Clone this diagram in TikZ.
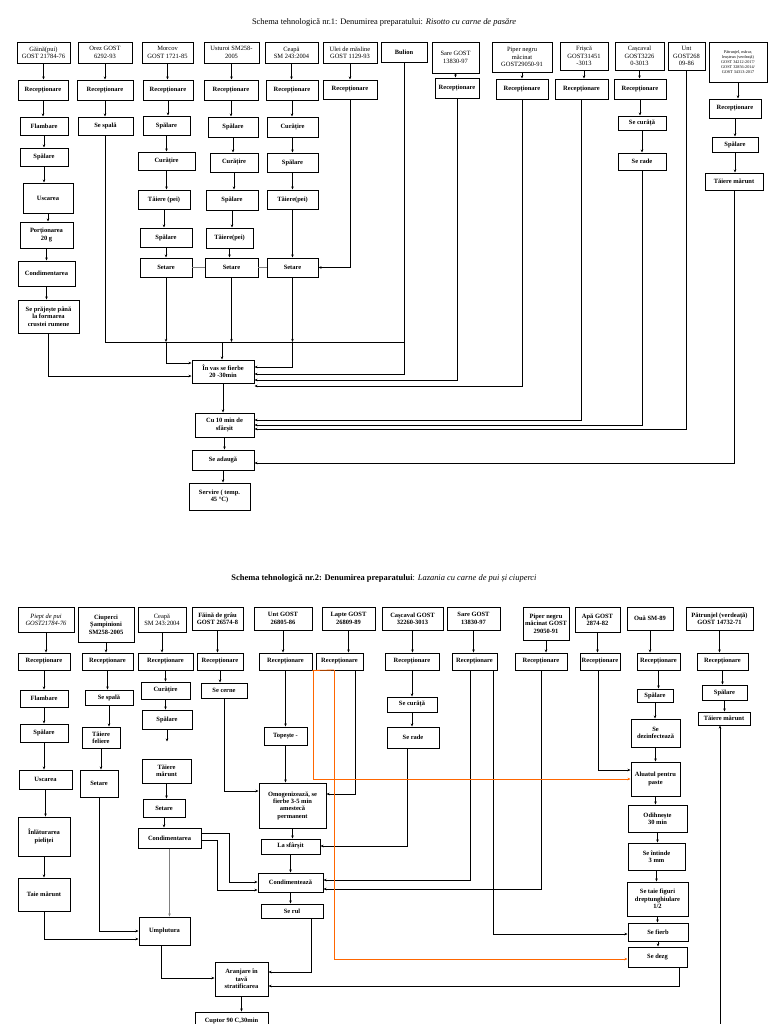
\documentclass[tikz,border=0pt]{standalone}
\usepackage{fontspec}
\setmainfont{Liberation Serif}
\usetikzlibrary{arrows.meta}
\tikzset{
 box/.style={draw,line width=0.7pt,inner sep=0.5pt,align=center,font=\fontsize{4.6}{5.2}\selectfont\bfseries},
 tbox/.style={box,line width=0.6pt,font=\fontsize{4.6}{5.2}\selectfont},
 ar/.style={-{Stealth[length=2.2pt,width=1.8pt]},line width=0.5pt},
 ln/.style={line width=0.5pt},
 gr/.style={draw=gray},
 orr/.style={draw=orange!80!red,line width=0.6pt},
}
\newcommand\bx[7][]{\node[box,#1,minimum width={(#5-#3)*0.025cm},minimum height={(#6-#4)*0.025cm}] (#2) at ({(#3+#5)/2},{(#4+#6)/2}) {#7};}
\newcommand\vd[2]{\draw[ar] (#1.south) -- (#1.south|-#2.north);}
\begin{document}
\begin{tikzpicture}[x=0.025cm,y=-0.025cm]
\useasboundingbox (0,0) rectangle (768,1024);
% ===== Scheme 1 =====
\node[font=\fontsize{6}{7}\selectfont] (t1) at (384,22) {Schema tehnologică nr.1: Denumirea preparatului: \textit{Risotto cu carne de pasăre}};
\bx[tbox]{a1}{17}{42}{70}{63}{Găină(pui)\\GOST 21784-76}
\bx[tbox]{a2}{78}{42}{132}{63}{Orez GOST\\6292-93}
\bx[tbox]{a3}{142}{42}{193}{63}{Morcov\\GOST 1721-85}
\bx[tbox]{a4}{204}{42}{259}{63}{Usturoi SM258-\\2005}
\bx[tbox]{a5}{265}{42}{318}{63}{Ceapă\\SM 243:2004}
\bx[tbox]{a6}{323}{42}{377}{63}{Ulei de măsline\\GOST 1129-93}
\bx{a7}{381}{42}{427}{62}{Bulion}
\bx[tbox]{a8}{432}{42}{479}{73}{Sare GOST\\13830-97}
\bx[tbox]{a9}{492}{42}{552}{72}{Piper negru\\măcinat\\GOST29050-91}
\bx[tbox]{a10}{560}{42}{608}{70}{Frișcă\\GOST31451\\-3013}
\bx[tbox]{a11}{615}{42}{664}{70}{Cașcaval\\GOST3226\\0-3013}
\bx[tbox]{a12}{668}{42}{705}{70}{Unt\\GOST268\\09-86}
\bx[tbox,font=\fontsize{3}{3.6}\selectfont]{a13}{709}{42}{767}{82}{Pătrunjel, mărar,\\leuștean (verdeață)\\GOST 34212-2017/\\GOST 32856-2014/\\GOST 34313-2017}
\bx{r1}{18}{80}{68}{100}{Recepționare}
\bx{r2}{77}{80}{133}{100}{Recepționare}
\bx{r3}{143}{80}{193}{100}{Recepționare}
\bx{r4}{204}{80}{258}{100}{Recepționare}
\bx{r5}{266}{80}{318}{100}{Recepționare}
\bx{r6}{323}{80}{377}{99}{Recepționare}
\bx{r8}{435}{78}{479}{98}{Recepționare}
\bx{r9}{496}{79}{548}{99}{Recepționare}
\bx{r10}{555}{79}{608}{99}{Recepționare}
\bx{r11}{614}{79}{666}{99}{Recepționare}
\bx{r13}{709}{99}{761}{118}{Recepționare}
\bx{c1a}{20}{117}{68}{135}{Flambare}
\bx{c1b}{20}{148}{68}{166}{Spălare}
\bx{c1c}{23}{183}{73}{213}{Uscarea}
\bx{c1d}{20}{222}{73}{248}{Porționarea\\20 g}
\bx{c1e}{18}{261}{75}{286}{Condimentarea}
\bx{c1f}{18}{300}{79}{333}{Se prăjește până\\la formarea\\crustei rumene}
\bx{o1}{78}{117}{133}{135}{Se spală}
\bx{m1}{143}{116}{190}{135}{Spălare}
\bx{m2}{138}{152}{195}{170}{Curățire}
\bx{m3}{138}{190}{190}{209}{Tăiere (pei)}
\bx{m4}{140}{228}{192}{247}{Spălare}
\bx{m5}{140}{258}{192}{277}{Setare}
\bx{u1}{208}{117}{258}{137}{Spălare}
\bx{u2}{210}{153}{258}{172}{Curățire}
\bx{u3}{206}{190}{258}{210}{Spălare}
\bx{u4}{206}{228}{253}{248}{Tăiere(pei)}
\bx{u5}{205}{258}{258}{277}{Setare}
\bx{k1}{267}{117}{318}{137}{Curățire}
\bx{k2}{267}{153}{318}{172}{Spălare}
\bx{k3}{267}{190}{318}{209}{Tăiere(pei)}
\bx{k4}{267}{258}{318}{277}{Setare}
\bx{s1}{618}{116}{666}{130}{Se curăță}
\bx{s2}{618}{153}{666}{170}{Se rade}
\bx{p1}{712}{137}{758}{152}{Spălare}
\bx{p2}{705}{173}{763}{190}{Tăiere mărunt}
\bx{fb}{192}{360}{254}{383}{În vas se fierbe\\20 -30min}
\bx{cz}{195}{413}{254}{437}{Cu 10 min de\\sfârșit}
\bx{sa}{192}{450}{254}{470}{Se adaugă}
\bx{sv}{189}{483}{250}{510}{Servire ( temp.\\45 °C)}
% chains
\vd{a1}{r1}\vd{r1}{c1a}\vd{c1a}{c1b}\vd{c1b}{c1c}\vd{c1c}{c1d}\vd{c1d}{c1e}\vd{c1e}{c1f}
\vd{a2}{r2}\vd{r2}{o1}
\vd{a3}{r3}\vd{r3}{m1}\vd{m1}{m2}\vd{m2}{m3}\vd{m3}{m4}\vd{m4}{m5}
\vd{a4}{r4}\vd{r4}{u1}\vd{u1}{u2}\vd{u2}{u3}\vd{u3}{u4}\vd{u4}{u5}
\vd{a5}{r5}\vd{r5}{k1}\vd{k1}{k2}\vd{k2}{k3}\vd{k3}{k4}
\vd{a6}{r6}\vd{a8}{r8}\vd{a9}{r9}\vd{a10}{r10}\vd{a11}{r11}\vd{r11}{s1}\vd{s1}{s2}
\vd{a13}{r13}\vd{r13}{p1}\vd{p1}{p2}
\draw[ln,gr] (m5.east) -- (u5.west) (u5.east) -- (k4.west);
\draw[ar] (r6.south) |- (k4.east);
\coordinate (j1) at (105.5,342);
\coordinate (j2) at (404,342);
\draw[ln] (o1.south) -- (j1) -- (j2);
\draw[ar] (m5.south) -- (m5.south|-j1);
\draw[ar] (u5.south) -- (u5.south|-j1);
\draw[ar] (k4.south) -- (k4.south|-j1);
\draw[ar] (166,342) |- (fb.west|-0,363);
\draw[ar] (222,342) -- (fb.north-|222,0);
\draw[ar] (292,342) |- (fb.east|-0,367);
\draw[ar] (a7.south) |- (fb.east|-0,374);
\draw[ar] (c1f.south) |- (fb.west|-0,376);
\draw[ar] (r8.south) |- (fb.east|-0,380);
\draw[ar] (r9.south) |- (fb.east|-0,386);
\draw[ar] (r10.south) |- (cz.east|-0,420);
\draw[ar] (s2.south) |- (cz.east|-0,425);
\draw[ar] (a12.south) |- (cz.east|-0,429);
\draw[ar] (p2.south) |- (sa.east|-0,463);
\vd{fb}{cz}\vd{cz}{sa}\vd{sa}{sv}
% ===== Scheme 2 =====
\node[font=\fontsize{6}{7}\selectfont] (t2) at (384,578) {\textbf{Schema tehnologică nr.2: Denumirea preparatului}: \textit{Lazania cu carne de pui și ciuperci}};
\bx[tbox,font=\fontsize{4.6}{5.2}\selectfont\itshape]{b1}{18}{607}{74}{632}{Piept de pui\\GOST21784-76}
\bx{b2}{78}{607}{134}{642}{Ciuperci\\Șampinioni\\SM258-2005}
\bx[tbox]{b3}{138}{607}{186}{632}{Ceapă\\SM 243:2004}
\bx{b4}{192}{607}{243}{630}{Făină de grâu\\GOST 26574-8}
\bx{b5}{254}{607}{312}{630}{Unt GOST\\26805-86}
\bx{b6}{322}{607}{375}{630}{Lapte GOST\\26809-89}
\bx{b7}{382}{607}{443}{630}{Cașcaval GOST\\32260-3013}
\bx{b8}{447}{607}{500}{630}{Sare GOST\\13830-97}
\bx{b9}{523}{607}{569}{640}{Piper negru\\măcinat GOST\\29050-91}
\bx{b10}{575}{607}{620}{632}{Apă GOST\\2874-82}
\bx{b11}{627}{607}{673}{630}{Ouă SM-89}
\bx{b12}{686}{607}{753}{630}{Pătrunjel (verdeață)\\GOST 14732-71}
\bx{q1}{18}{653}{70}{670}{Recepționare}
\bx{q2}{82}{653}{133}{670}{Recepționare}
\bx{q3}{138}{653}{193}{670}{Recepționare}
\bx{q4}{197}{653}{243}{670}{Recepționare}
\bx{q5}{259}{653}{312}{670}{Recepționare}
\bx{q6}{316}{653}{363}{670}{Recepționare}
\bx{q7}{385}{653}{439}{670}{Recepționare}
\bx{q8}{452}{653}{497}{670}{Recepționare}
\bx{q9}{515}{653}{567}{670}{Recepționare}
\bx{q10}{580}{653}{620}{670}{Recepționare}
\bx{q11}{637}{653}{680}{670}{Recepționare}
\bx{q12}{697}{653}{748}{670}{Recepționare}
\bx{d1}{20}{690}{68}{707}{Flambare}
\bx{d2}{20}{724}{68}{742}{Spălare}
\bx{d3}{19}{770}{72}{789}{Uscarea}
\bx{d4}{18}{817}{70}{856}{Înlăturarea\\pieliței}
\bx{d5}{18}{878}{70}{911}{Taie mărunt}
\bx{e1}{85}{690}{133}{705}{Se spală}
\bx{e2}{82}{727}{120}{748}{Tăiere\\feliere}
\bx{e3}{80}{770}{118}{797}{Setare}
\bx{g1}{141}{682}{190}{699}{Curățire}
\bx{g2}{142}{710}{192}{729}{Spălare}
\bx{g3}{142}{759}{191}{783}{Tăiere\\mărunt}
\bx{g4}{143}{799}{185}{817}{Setare}
\bx{g5}{138}{828}{201}{848}{Condimentarea}
\bx{g6}{139}{917}{190}{945}{Umplutura}
\bx{h1}{201}{683}{247}{698}{Se cerne}
\bx{h2}{264}{727}{307}{745}{Topește -}
\bx{h3}{259}{783}{326}{828}{Omogenizează, se\\fierbe 3-5 min\\amestecă\\permanent}
\bx{h4}{261}{839}{320}{854}{La sfârșit}
\bx{h5}{258}{873}{323}{892}{Condimentează}
\bx{h6}{261}{904}{323}{918}{Se rul}
\bx{h7}{215}{962}{268}{996}{Aranjare în\\tavă\\stratificarea}
\bx{h8}{195}{1012}{268}{1030}{Cuptor 90 C,30min}
\bx{i1}{387}{697}{437}{712}{Se curăță}
\bx{i2}{387}{727}{439}{748}{Se rade}
\bx{w1}{637}{689}{673}{702}{Spălare}
\bx{w2}{631}{719}{680}{747}{Se\\dezinfectează}
\bx{w3}{631}{762}{680}{796}{Aluatul pentru\\paste}
\bx{w4}{628}{805}{687}{832}{Odihnește\\30 min}
\bx{w5}{628}{843}{685}{870}{Se întinde\\3 mm}
\bx{w6}{627}{882}{688}{916}{Se taie figuri\\dreptunghiulare\\1/2}
\bx{w7}{628}{923}{688}{941}{Se fierb}
\bx{w8}{628}{947}{687}{967}{Se dezg}
\bx{v1}{702}{685}{747}{700}{Spălare}
\bx{v2}{698}{712}{750}{725}{Tăiere mărunt}
% chains
\vd{b1}{q1}\vd{q1}{d1}\vd{d1}{d2}\vd{d2}{d3}\vd{d3}{d4}\vd{d4}{d5}
\vd{b2}{q2}\vd{q2}{e1}\vd{e1}{e2}\vd{e2}{e3}
\vd{b3}{q3}\vd{q3}{g1}\vd{g1}{g2}\draw[ar] (g2.south) -- ++(0,12);\vd{g3}{g4}\vd{g4}{g5}
\draw[ar,gr] (g5.south) -- (g5.south|-g6.north);
\vd{b4}{q4}\vd{q4}{h1}
\vd{b5}{q5}\vd{q5}{h2}\vd{h2}{h3}\vd{h3}{h4}\vd{h4}{h5}\vd{h5}{h6}\vd{h7}{h8}
\vd{b6}{q6}\vd{b7}{q7}\vd{q7}{i1}\vd{i1}{i2}\vd{b8}{q8}\vd{b9}{q9}\vd{b10}{q10}
\vd{b11}{q11}\vd{q11}{w1}\vd{w1}{w2}\vd{w2}{w3}\vd{w3}{w4}\vd{w4}{w5}\vd{w5}{w6}\vd{w6}{w7}\vd{w7}{w8}
\vd{b12}{q12}\vd{q12}{v1}\vd{v1}{v2}
\draw[ar] (d5.south) |- (g6.west|-0,939);
\draw[ar] (e3.south) |- (g6.west|-0,931);
\draw[ar] (h1.south) |- (h3.west|-0,791);
\draw[ar] (q6.south-|355,0) |- (h3.east|-0,794);
\draw[ar] (i2.south-|407,0) |- (h4.east|-0,846);
\draw[ar] (g5.east|-0,833) -| (229,882) -- (h5.west|-0,882);
\draw[ar] (g5.east|-0,840) -| (217,890) -- (h5.west|-0,890);
\draw[ar] (q8.south-|470,0) |- (h5.east|-0,880);
\draw[ar] (q9.south-|541,0) |- (h5.east|-0,889);
\draw[ar] (q8.south-|493,0) |- (w7.west|-0,934);
\draw[ar] (q10.south-|598,0) |- (w3.west|-0,770);
\draw[ar] (g6.south-|161,0) |- (h7.west|-0,978);
\draw[ar] (h6.south-|311,0) |- (h7.east|-0,972);
\draw[ar] (w8.south-|679,0) |- (h7.east|-0,986);
\draw[ar] (720,1024) -- (v2.south-|720,0);
\draw[orr] (q5.south east) -- (334,670);
\draw[orr,-{Stealth[length=2.2pt,width=1.8pt]}] (313,670) |- (w3.west|-0,779);
\draw[orr,-{Stealth[length=2.2pt,width=1.8pt]}] (334,670) |- (w8.west|-0,959);
\end{tikzpicture}
\end{document}
